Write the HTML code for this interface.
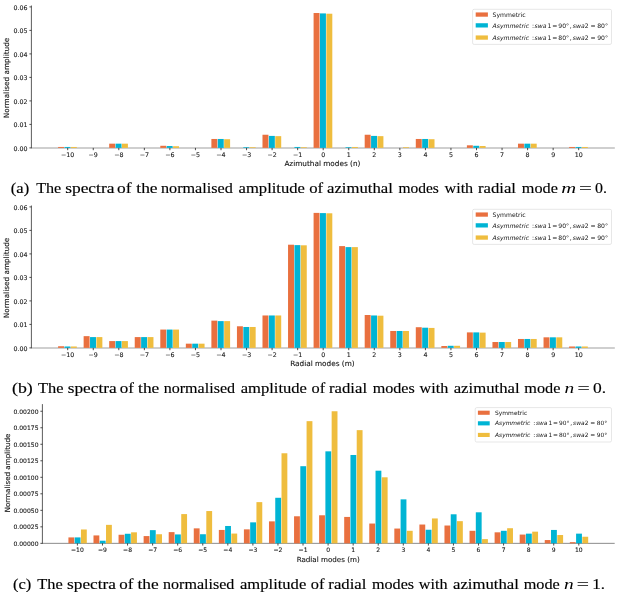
<!DOCTYPE html>
<html><head><meta charset="utf-8"><title>Modal spectra</title>
<style>
html,body{margin:0;padding:0;background:#fff;}
body{width:618px;height:592px;overflow:hidden;}
svg{display:block;}
.t{font-family:"DejaVu Sans","Liberation Sans",sans-serif;fill:#111;stroke:#111;stroke-width:0.1px;}
.tk{font-family:"DejaVu Sans","Liberation Sans",sans-serif;fill:#111;stroke:#111;stroke-width:0.08px;}
.lg{font-family:"DejaVu Sans","Liberation Sans",sans-serif;fill:#111;}
.c{font-family:"Liberation Serif","DejaVu Serif",serif;font-size:15px;fill:#000;stroke:#000;stroke-width:0.15px;}
</style></head><body>
<svg width="618" height="592" viewBox="0 0 618 592">
<rect width="618" height="592" fill="#fff"/>
<line x1="31.4" y1="147.9" x2="614.8" y2="147.9" stroke="#cfcfcf" stroke-width="2.0"/>
<rect x="58.09" y="146.96" width="5.95" height="0.94" fill="#E9703F"/>
<rect x="64.48" y="146.96" width="5.95" height="0.94" fill="#00B4D4"/>
<rect x="70.86" y="146.96" width="5.95" height="0.94" fill="#EFBD3E"/>
<rect x="109.19" y="143.67" width="5.95" height="4.23" fill="#E9703F"/>
<rect x="115.58" y="143.67" width="5.95" height="4.23" fill="#00B4D4"/>
<rect x="121.96" y="143.67" width="5.95" height="4.23" fill="#EFBD3E"/>
<rect x="160.29" y="145.78" width="5.95" height="2.11" fill="#E9703F"/>
<rect x="166.68" y="146.02" width="5.95" height="1.88" fill="#00B4D4"/>
<rect x="173.06" y="146.25" width="5.95" height="1.65" fill="#EFBD3E"/>
<rect x="211.39" y="138.97" width="5.95" height="8.93" fill="#E9703F"/>
<rect x="217.78" y="138.97" width="5.95" height="8.93" fill="#00B4D4"/>
<rect x="224.16" y="139.21" width="5.95" height="8.7" fill="#EFBD3E"/>
<rect x="243.33" y="147.19" width="5.95" height="0.7" fill="#00B4D4"/>
<rect x="249.71" y="147.19" width="5.95" height="0.7" fill="#EFBD3E"/>
<rect x="262.49" y="134.74" width="5.95" height="13.16" fill="#E9703F"/>
<rect x="268.88" y="135.91" width="5.95" height="11.99" fill="#00B4D4"/>
<rect x="275.26" y="136.15" width="5.95" height="11.75" fill="#EFBD3E"/>
<rect x="294.43" y="146.96" width="5.95" height="0.94" fill="#00B4D4"/>
<rect x="300.81" y="147.19" width="5.95" height="0.7" fill="#EFBD3E"/>
<rect x="313.59" y="13.01" width="5.95" height="134.89" fill="#E9703F"/>
<rect x="319.98" y="13.41" width="5.95" height="134.49" fill="#00B4D4"/>
<rect x="326.36" y="13.72" width="5.95" height="134.19" fill="#EFBD3E"/>
<rect x="345.53" y="147.19" width="5.95" height="0.7" fill="#00B4D4"/>
<rect x="351.91" y="146.96" width="5.95" height="0.94" fill="#EFBD3E"/>
<rect x="364.69" y="134.74" width="5.95" height="13.16" fill="#E9703F"/>
<rect x="371.08" y="135.91" width="5.95" height="11.99" fill="#00B4D4"/>
<rect x="377.46" y="136.15" width="5.95" height="11.75" fill="#EFBD3E"/>
<rect x="403.01" y="147.19" width="5.95" height="0.7" fill="#EFBD3E"/>
<rect x="415.79" y="138.97" width="5.95" height="8.93" fill="#E9703F"/>
<rect x="422.18" y="138.97" width="5.95" height="8.93" fill="#00B4D4"/>
<rect x="428.56" y="139.21" width="5.95" height="8.7" fill="#EFBD3E"/>
<rect x="466.89" y="145.31" width="5.95" height="2.58" fill="#E9703F"/>
<rect x="473.28" y="145.78" width="5.95" height="2.11" fill="#00B4D4"/>
<rect x="479.66" y="146.02" width="5.95" height="1.88" fill="#EFBD3E"/>
<rect x="517.99" y="143.67" width="5.95" height="4.23" fill="#E9703F"/>
<rect x="524.38" y="143.67" width="5.95" height="4.23" fill="#00B4D4"/>
<rect x="530.76" y="143.67" width="5.95" height="4.23" fill="#EFBD3E"/>
<rect x="569.09" y="146.96" width="5.95" height="0.94" fill="#E9703F"/>
<rect x="575.48" y="146.96" width="5.95" height="0.94" fill="#00B4D4"/>
<rect x="581.86" y="146.96" width="5.95" height="0.94" fill="#EFBD3E"/>
<line x1="31.4" y1="5.5" x2="31.4" y2="148.3" stroke="#333" stroke-width="0.8"/>
<line x1="29.4" y1="147.9" x2="31.4" y2="147.9" stroke="#222" stroke-width="0.8"/>
<text x="27.6" y="150.59" text-anchor="end" class="tk" style="font-size:6.3px">0.00</text>
<line x1="29.4" y1="124.4" x2="31.4" y2="124.4" stroke="#222" stroke-width="0.8"/>
<text x="27.6" y="127.09" text-anchor="end" class="tk" style="font-size:6.3px">0.01</text>
<line x1="29.4" y1="100.9" x2="31.4" y2="100.9" stroke="#222" stroke-width="0.8"/>
<text x="27.6" y="103.59" text-anchor="end" class="tk" style="font-size:6.3px">0.02</text>
<line x1="29.4" y1="77.4" x2="31.4" y2="77.4" stroke="#222" stroke-width="0.8"/>
<text x="27.6" y="80.09" text-anchor="end" class="tk" style="font-size:6.3px">0.03</text>
<line x1="29.4" y1="53.9" x2="31.4" y2="53.9" stroke="#222" stroke-width="0.8"/>
<text x="27.6" y="56.59" text-anchor="end" class="tk" style="font-size:6.3px">0.04</text>
<line x1="29.4" y1="30.4" x2="31.4" y2="30.4" stroke="#222" stroke-width="0.8"/>
<text x="27.6" y="33.09" text-anchor="end" class="tk" style="font-size:6.3px">0.05</text>
<line x1="29.4" y1="6.9" x2="31.4" y2="6.9" stroke="#222" stroke-width="0.8"/>
<text x="27.6" y="9.59" text-anchor="end" class="tk" style="font-size:6.3px">0.06</text>
<line x1="67.7" y1="147.9" x2="67.7" y2="150.2" stroke="#222" stroke-width="0.8"/>
<text x="67.7" y="156.8" text-anchor="middle" class="tk" style="font-size:6.3px">−10</text>
<line x1="93.25" y1="147.9" x2="93.25" y2="150.2" stroke="#222" stroke-width="0.8"/>
<text x="93.25" y="156.8" text-anchor="middle" class="tk" style="font-size:6.3px">−9</text>
<line x1="118.8" y1="147.9" x2="118.8" y2="150.2" stroke="#222" stroke-width="0.8"/>
<text x="118.8" y="156.8" text-anchor="middle" class="tk" style="font-size:6.3px">−8</text>
<line x1="144.35" y1="147.9" x2="144.35" y2="150.2" stroke="#222" stroke-width="0.8"/>
<text x="144.35" y="156.8" text-anchor="middle" class="tk" style="font-size:6.3px">−7</text>
<line x1="169.9" y1="147.9" x2="169.9" y2="150.2" stroke="#222" stroke-width="0.8"/>
<text x="169.9" y="156.8" text-anchor="middle" class="tk" style="font-size:6.3px">−6</text>
<line x1="195.45" y1="147.9" x2="195.45" y2="150.2" stroke="#222" stroke-width="0.8"/>
<text x="195.45" y="156.8" text-anchor="middle" class="tk" style="font-size:6.3px">−5</text>
<line x1="221" y1="147.9" x2="221" y2="150.2" stroke="#222" stroke-width="0.8"/>
<text x="221" y="156.8" text-anchor="middle" class="tk" style="font-size:6.3px">−4</text>
<line x1="246.55" y1="147.9" x2="246.55" y2="150.2" stroke="#222" stroke-width="0.8"/>
<text x="246.55" y="156.8" text-anchor="middle" class="tk" style="font-size:6.3px">−3</text>
<line x1="272.1" y1="147.9" x2="272.1" y2="150.2" stroke="#222" stroke-width="0.8"/>
<text x="272.1" y="156.8" text-anchor="middle" class="tk" style="font-size:6.3px">−2</text>
<line x1="297.65" y1="147.9" x2="297.65" y2="150.2" stroke="#222" stroke-width="0.8"/>
<text x="297.65" y="156.8" text-anchor="middle" class="tk" style="font-size:6.3px">−1</text>
<line x1="323.2" y1="147.9" x2="323.2" y2="150.2" stroke="#222" stroke-width="0.8"/>
<text x="323.2" y="156.8" text-anchor="middle" class="tk" style="font-size:6.3px">0</text>
<line x1="348.75" y1="147.9" x2="348.75" y2="150.2" stroke="#222" stroke-width="0.8"/>
<text x="348.75" y="156.8" text-anchor="middle" class="tk" style="font-size:6.3px">1</text>
<line x1="374.3" y1="147.9" x2="374.3" y2="150.2" stroke="#222" stroke-width="0.8"/>
<text x="374.3" y="156.8" text-anchor="middle" class="tk" style="font-size:6.3px">2</text>
<line x1="399.85" y1="147.9" x2="399.85" y2="150.2" stroke="#222" stroke-width="0.8"/>
<text x="399.85" y="156.8" text-anchor="middle" class="tk" style="font-size:6.3px">3</text>
<line x1="425.4" y1="147.9" x2="425.4" y2="150.2" stroke="#222" stroke-width="0.8"/>
<text x="425.4" y="156.8" text-anchor="middle" class="tk" style="font-size:6.3px">4</text>
<line x1="450.95" y1="147.9" x2="450.95" y2="150.2" stroke="#222" stroke-width="0.8"/>
<text x="450.95" y="156.8" text-anchor="middle" class="tk" style="font-size:6.3px">5</text>
<line x1="476.5" y1="147.9" x2="476.5" y2="150.2" stroke="#222" stroke-width="0.8"/>
<text x="476.5" y="156.8" text-anchor="middle" class="tk" style="font-size:6.3px">6</text>
<line x1="502.05" y1="147.9" x2="502.05" y2="150.2" stroke="#222" stroke-width="0.8"/>
<text x="502.05" y="156.8" text-anchor="middle" class="tk" style="font-size:6.3px">7</text>
<line x1="527.6" y1="147.9" x2="527.6" y2="150.2" stroke="#222" stroke-width="0.8"/>
<text x="527.6" y="156.8" text-anchor="middle" class="tk" style="font-size:6.3px">8</text>
<line x1="553.15" y1="147.9" x2="553.15" y2="150.2" stroke="#222" stroke-width="0.8"/>
<text x="553.15" y="156.8" text-anchor="middle" class="tk" style="font-size:6.3px">9</text>
<line x1="578.7" y1="147.9" x2="578.7" y2="150.2" stroke="#222" stroke-width="0.8"/>
<text x="578.7" y="156.8" text-anchor="middle" class="tk" style="font-size:6.3px">10</text>
<text x="322.4" y="166" text-anchor="middle" class="t" style="font-size:7.3px">Azimuthal modes (n)</text>
<text transform="translate(9,78) rotate(-90)" text-anchor="middle" class="t" style="font-size:7.3px">Normalised amplitude</text>
<rect x="472.6" y="9.3" width="138.9" height="35.1" rx="1.5" fill="#fff" fill-opacity="0.8" stroke="#dcdcdc" stroke-width="0.7"/>
<rect x="475.7" y="12.43" width="12.2" height="4.27" fill="#E9703F"/>
<text x="492.6" y="16.7" class="lg" style="font-size:6.1px" textLength="33" lengthAdjust="spacingAndGlyphs">Symmetric</text>
<rect x="475.7" y="23.23" width="12.2" height="4.27" fill="#00B4D4"/>
<text y="27.5" class="lg" style="font-size:6.1px"><tspan x="492.55" font-style="italic">Asymmetric</tspan><tspan x="531.9">:</tspan><tspan x="534.55" font-style="italic">swa</tspan><tspan x="547.45">1</tspan><tspan x="552.2">=</tspan><tspan x="558.35">90°</tspan><tspan x="569.8">,</tspan><tspan x="572.75" font-style="italic">swa</tspan><tspan x="584.75">2</tspan><tspan x="590.4">=</tspan><tspan x="597.15">80°</tspan></text>
<rect x="475.7" y="35.43" width="12.2" height="4.27" fill="#EFBD3E"/>
<text y="39.7" class="lg" style="font-size:6.1px"><tspan x="492.55" font-style="italic">Asymmetric</tspan><tspan x="531.9">:</tspan><tspan x="534.55" font-style="italic">swa</tspan><tspan x="547.45">1</tspan><tspan x="552.2">=</tspan><tspan x="558.35">80°</tspan><tspan x="569.8">,</tspan><tspan x="572.75" font-style="italic">swa</tspan><tspan x="584.75">2</tspan><tspan x="590.4">=</tspan><tspan x="597.15">90°</tspan></text>
<line x1="31.4" y1="347.9" x2="614.8" y2="347.9" stroke="#cfcfcf" stroke-width="2.0"/>
<rect x="58.09" y="346.25" width="5.95" height="1.65" fill="#E9703F"/>
<rect x="64.48" y="346.49" width="5.95" height="1.41" fill="#00B4D4"/>
<rect x="70.86" y="346.49" width="5.95" height="1.41" fill="#EFBD3E"/>
<rect x="83.64" y="336.15" width="5.95" height="11.75" fill="#E9703F"/>
<rect x="90.03" y="337.09" width="5.95" height="10.81" fill="#00B4D4"/>
<rect x="96.41" y="337.09" width="5.95" height="10.81" fill="#EFBD3E"/>
<rect x="109.19" y="341.08" width="5.95" height="6.81" fill="#E9703F"/>
<rect x="115.58" y="341.08" width="5.95" height="6.81" fill="#00B4D4"/>
<rect x="121.96" y="341.08" width="5.95" height="6.81" fill="#EFBD3E"/>
<rect x="134.74" y="337.09" width="5.95" height="10.81" fill="#E9703F"/>
<rect x="141.13" y="337.09" width="5.95" height="10.81" fill="#00B4D4"/>
<rect x="147.51" y="337.09" width="5.95" height="10.81" fill="#EFBD3E"/>
<rect x="160.29" y="329.57" width="5.95" height="18.33" fill="#E9703F"/>
<rect x="166.68" y="329.57" width="5.95" height="18.33" fill="#00B4D4"/>
<rect x="173.06" y="329.57" width="5.95" height="18.33" fill="#EFBD3E"/>
<rect x="185.84" y="343.67" width="5.95" height="4.23" fill="#E9703F"/>
<rect x="192.23" y="343.67" width="5.95" height="4.23" fill="#00B4D4"/>
<rect x="198.61" y="343.67" width="5.95" height="4.23" fill="#EFBD3E"/>
<rect x="211.39" y="320.64" width="5.95" height="27.26" fill="#E9703F"/>
<rect x="217.78" y="321.11" width="5.95" height="26.79" fill="#00B4D4"/>
<rect x="224.16" y="321.11" width="5.95" height="26.79" fill="#EFBD3E"/>
<rect x="236.94" y="326.28" width="5.95" height="21.62" fill="#E9703F"/>
<rect x="243.33" y="326.98" width="5.95" height="20.91" fill="#00B4D4"/>
<rect x="249.71" y="326.98" width="5.95" height="20.91" fill="#EFBD3E"/>
<rect x="262.49" y="315.47" width="5.95" height="32.43" fill="#E9703F"/>
<rect x="268.88" y="315.47" width="5.95" height="32.43" fill="#00B4D4"/>
<rect x="275.26" y="315.47" width="5.95" height="32.43" fill="#EFBD3E"/>
<rect x="288.04" y="244.71" width="5.95" height="103.19" fill="#E9703F"/>
<rect x="294.43" y="245.11" width="5.95" height="102.79" fill="#00B4D4"/>
<rect x="300.81" y="245.3" width="5.95" height="102.6" fill="#EFBD3E"/>
<rect x="313.59" y="212.89" width="5.95" height="135.01" fill="#E9703F"/>
<rect x="319.98" y="213.1" width="5.95" height="134.8" fill="#00B4D4"/>
<rect x="326.36" y="213.29" width="5.95" height="134.61" fill="#EFBD3E"/>
<rect x="339.14" y="246.1" width="5.95" height="101.8" fill="#E9703F"/>
<rect x="345.53" y="247.11" width="5.95" height="100.79" fill="#00B4D4"/>
<rect x="351.91" y="247.11" width="5.95" height="100.79" fill="#EFBD3E"/>
<rect x="364.69" y="315" width="5.95" height="32.9" fill="#E9703F"/>
<rect x="371.08" y="315.47" width="5.95" height="32.43" fill="#00B4D4"/>
<rect x="377.46" y="315.7" width="5.95" height="32.2" fill="#EFBD3E"/>
<rect x="390.24" y="330.98" width="5.95" height="16.92" fill="#E9703F"/>
<rect x="396.63" y="330.98" width="5.95" height="16.92" fill="#00B4D4"/>
<rect x="403.01" y="330.98" width="5.95" height="16.92" fill="#EFBD3E"/>
<rect x="415.79" y="327.22" width="5.95" height="20.68" fill="#E9703F"/>
<rect x="422.18" y="327.69" width="5.95" height="20.21" fill="#00B4D4"/>
<rect x="428.56" y="327.92" width="5.95" height="19.98" fill="#EFBD3E"/>
<rect x="441.34" y="346.02" width="5.95" height="1.88" fill="#E9703F"/>
<rect x="447.73" y="345.78" width="5.95" height="2.11" fill="#00B4D4"/>
<rect x="454.11" y="345.78" width="5.95" height="2.11" fill="#EFBD3E"/>
<rect x="466.89" y="332.39" width="5.95" height="15.51" fill="#E9703F"/>
<rect x="473.28" y="332.39" width="5.95" height="15.51" fill="#00B4D4"/>
<rect x="479.66" y="332.62" width="5.95" height="15.27" fill="#EFBD3E"/>
<rect x="492.44" y="342.02" width="5.95" height="5.88" fill="#E9703F"/>
<rect x="498.83" y="342.02" width="5.95" height="5.88" fill="#00B4D4"/>
<rect x="505.21" y="342.02" width="5.95" height="5.88" fill="#EFBD3E"/>
<rect x="517.99" y="338.97" width="5.95" height="8.93" fill="#E9703F"/>
<rect x="524.38" y="338.97" width="5.95" height="8.93" fill="#00B4D4"/>
<rect x="530.76" y="338.97" width="5.95" height="8.93" fill="#EFBD3E"/>
<rect x="543.54" y="337.32" width="5.95" height="10.57" fill="#E9703F"/>
<rect x="549.93" y="337.32" width="5.95" height="10.57" fill="#00B4D4"/>
<rect x="556.31" y="337.32" width="5.95" height="10.57" fill="#EFBD3E"/>
<rect x="569.09" y="346.49" width="5.95" height="1.41" fill="#E9703F"/>
<rect x="575.48" y="346.49" width="5.95" height="1.41" fill="#00B4D4"/>
<rect x="581.86" y="346.49" width="5.95" height="1.41" fill="#EFBD3E"/>
<line x1="31.4" y1="205.5" x2="31.4" y2="348.3" stroke="#333" stroke-width="0.8"/>
<line x1="29.4" y1="347.9" x2="31.4" y2="347.9" stroke="#222" stroke-width="0.8"/>
<text x="27.6" y="350.59" text-anchor="end" class="tk" style="font-size:6.3px">0.00</text>
<line x1="29.4" y1="324.4" x2="31.4" y2="324.4" stroke="#222" stroke-width="0.8"/>
<text x="27.6" y="327.09" text-anchor="end" class="tk" style="font-size:6.3px">0.01</text>
<line x1="29.4" y1="300.9" x2="31.4" y2="300.9" stroke="#222" stroke-width="0.8"/>
<text x="27.6" y="303.59" text-anchor="end" class="tk" style="font-size:6.3px">0.02</text>
<line x1="29.4" y1="277.4" x2="31.4" y2="277.4" stroke="#222" stroke-width="0.8"/>
<text x="27.6" y="280.09" text-anchor="end" class="tk" style="font-size:6.3px">0.03</text>
<line x1="29.4" y1="253.9" x2="31.4" y2="253.9" stroke="#222" stroke-width="0.8"/>
<text x="27.6" y="256.59" text-anchor="end" class="tk" style="font-size:6.3px">0.04</text>
<line x1="29.4" y1="230.4" x2="31.4" y2="230.4" stroke="#222" stroke-width="0.8"/>
<text x="27.6" y="233.09" text-anchor="end" class="tk" style="font-size:6.3px">0.05</text>
<line x1="29.4" y1="206.9" x2="31.4" y2="206.9" stroke="#222" stroke-width="0.8"/>
<text x="27.6" y="209.59" text-anchor="end" class="tk" style="font-size:6.3px">0.06</text>
<line x1="67.7" y1="347.9" x2="67.7" y2="350.2" stroke="#222" stroke-width="0.8"/>
<text x="67.7" y="356.8" text-anchor="middle" class="tk" style="font-size:6.3px">−10</text>
<line x1="93.25" y1="347.9" x2="93.25" y2="350.2" stroke="#222" stroke-width="0.8"/>
<text x="93.25" y="356.8" text-anchor="middle" class="tk" style="font-size:6.3px">−9</text>
<line x1="118.8" y1="347.9" x2="118.8" y2="350.2" stroke="#222" stroke-width="0.8"/>
<text x="118.8" y="356.8" text-anchor="middle" class="tk" style="font-size:6.3px">−8</text>
<line x1="144.35" y1="347.9" x2="144.35" y2="350.2" stroke="#222" stroke-width="0.8"/>
<text x="144.35" y="356.8" text-anchor="middle" class="tk" style="font-size:6.3px">−7</text>
<line x1="169.9" y1="347.9" x2="169.9" y2="350.2" stroke="#222" stroke-width="0.8"/>
<text x="169.9" y="356.8" text-anchor="middle" class="tk" style="font-size:6.3px">−6</text>
<line x1="195.45" y1="347.9" x2="195.45" y2="350.2" stroke="#222" stroke-width="0.8"/>
<text x="195.45" y="356.8" text-anchor="middle" class="tk" style="font-size:6.3px">−5</text>
<line x1="221" y1="347.9" x2="221" y2="350.2" stroke="#222" stroke-width="0.8"/>
<text x="221" y="356.8" text-anchor="middle" class="tk" style="font-size:6.3px">−4</text>
<line x1="246.55" y1="347.9" x2="246.55" y2="350.2" stroke="#222" stroke-width="0.8"/>
<text x="246.55" y="356.8" text-anchor="middle" class="tk" style="font-size:6.3px">−3</text>
<line x1="272.1" y1="347.9" x2="272.1" y2="350.2" stroke="#222" stroke-width="0.8"/>
<text x="272.1" y="356.8" text-anchor="middle" class="tk" style="font-size:6.3px">−2</text>
<line x1="297.65" y1="347.9" x2="297.65" y2="350.2" stroke="#222" stroke-width="0.8"/>
<text x="297.65" y="356.8" text-anchor="middle" class="tk" style="font-size:6.3px">−1</text>
<line x1="323.2" y1="347.9" x2="323.2" y2="350.2" stroke="#222" stroke-width="0.8"/>
<text x="323.2" y="356.8" text-anchor="middle" class="tk" style="font-size:6.3px">0</text>
<line x1="348.75" y1="347.9" x2="348.75" y2="350.2" stroke="#222" stroke-width="0.8"/>
<text x="348.75" y="356.8" text-anchor="middle" class="tk" style="font-size:6.3px">1</text>
<line x1="374.3" y1="347.9" x2="374.3" y2="350.2" stroke="#222" stroke-width="0.8"/>
<text x="374.3" y="356.8" text-anchor="middle" class="tk" style="font-size:6.3px">2</text>
<line x1="399.85" y1="347.9" x2="399.85" y2="350.2" stroke="#222" stroke-width="0.8"/>
<text x="399.85" y="356.8" text-anchor="middle" class="tk" style="font-size:6.3px">3</text>
<line x1="425.4" y1="347.9" x2="425.4" y2="350.2" stroke="#222" stroke-width="0.8"/>
<text x="425.4" y="356.8" text-anchor="middle" class="tk" style="font-size:6.3px">4</text>
<line x1="450.95" y1="347.9" x2="450.95" y2="350.2" stroke="#222" stroke-width="0.8"/>
<text x="450.95" y="356.8" text-anchor="middle" class="tk" style="font-size:6.3px">5</text>
<line x1="476.5" y1="347.9" x2="476.5" y2="350.2" stroke="#222" stroke-width="0.8"/>
<text x="476.5" y="356.8" text-anchor="middle" class="tk" style="font-size:6.3px">6</text>
<line x1="502.05" y1="347.9" x2="502.05" y2="350.2" stroke="#222" stroke-width="0.8"/>
<text x="502.05" y="356.8" text-anchor="middle" class="tk" style="font-size:6.3px">7</text>
<line x1="527.6" y1="347.9" x2="527.6" y2="350.2" stroke="#222" stroke-width="0.8"/>
<text x="527.6" y="356.8" text-anchor="middle" class="tk" style="font-size:6.3px">8</text>
<line x1="553.15" y1="347.9" x2="553.15" y2="350.2" stroke="#222" stroke-width="0.8"/>
<text x="553.15" y="356.8" text-anchor="middle" class="tk" style="font-size:6.3px">9</text>
<line x1="578.7" y1="347.9" x2="578.7" y2="350.2" stroke="#222" stroke-width="0.8"/>
<text x="578.7" y="356.8" text-anchor="middle" class="tk" style="font-size:6.3px">10</text>
<text x="322.4" y="366" text-anchor="middle" class="t" style="font-size:7.3px">Radial modes (m)</text>
<text transform="translate(9,278) rotate(-90)" text-anchor="middle" class="t" style="font-size:7.3px">Normalised amplitude</text>
<rect x="472.6" y="209.3" width="138.9" height="35.1" rx="1.5" fill="#fff" fill-opacity="0.8" stroke="#dcdcdc" stroke-width="0.7"/>
<rect x="475.7" y="212.43" width="12.2" height="4.27" fill="#E9703F"/>
<text x="492.6" y="216.7" class="lg" style="font-size:6.1px" textLength="33" lengthAdjust="spacingAndGlyphs">Symmetric</text>
<rect x="475.7" y="223.23" width="12.2" height="4.27" fill="#00B4D4"/>
<text y="227.5" class="lg" style="font-size:6.1px"><tspan x="492.55" font-style="italic">Asymmetric</tspan><tspan x="531.9">:</tspan><tspan x="534.55" font-style="italic">swa</tspan><tspan x="547.45">1</tspan><tspan x="552.2">=</tspan><tspan x="558.35">90°</tspan><tspan x="569.8">,</tspan><tspan x="572.75" font-style="italic">swa</tspan><tspan x="584.75">2</tspan><tspan x="590.4">=</tspan><tspan x="597.15">80°</tspan></text>
<rect x="475.7" y="235.43" width="12.2" height="4.27" fill="#EFBD3E"/>
<text y="239.7" class="lg" style="font-size:6.1px"><tspan x="492.55" font-style="italic">Asymmetric</tspan><tspan x="531.9">:</tspan><tspan x="534.55" font-style="italic">swa</tspan><tspan x="547.45">1</tspan><tspan x="552.2">=</tspan><tspan x="558.35">80°</tspan><tspan x="569.8">,</tspan><tspan x="572.75" font-style="italic">swa</tspan><tspan x="584.75">2</tspan><tspan x="590.4">=</tspan><tspan x="597.15">90°</tspan></text>
<line x1="42.4" y1="543.35" x2="614.7" y2="543.35" stroke="#8c8c8c" stroke-width="1.0"/>
<rect x="68.42" y="537.41" width="5.83" height="5.94" fill="#E9703F"/>
<rect x="74.69" y="537.41" width="5.83" height="5.94" fill="#00B4D4"/>
<rect x="80.95" y="529.48" width="5.83" height="13.87" fill="#EFBD3E"/>
<rect x="93.49" y="535.42" width="5.83" height="7.93" fill="#E9703F"/>
<rect x="99.76" y="540.71" width="5.83" height="2.64" fill="#00B4D4"/>
<rect x="106.02" y="524.86" width="5.83" height="18.49" fill="#EFBD3E"/>
<rect x="118.56" y="534.76" width="5.83" height="8.59" fill="#E9703F"/>
<rect x="124.83" y="533.77" width="5.83" height="9.58" fill="#00B4D4"/>
<rect x="131.09" y="532.32" width="5.83" height="11.03" fill="#EFBD3E"/>
<rect x="143.63" y="536.08" width="5.83" height="7.27" fill="#E9703F"/>
<rect x="149.9" y="530.14" width="5.83" height="13.21" fill="#00B4D4"/>
<rect x="156.16" y="534.24" width="5.83" height="9.11" fill="#EFBD3E"/>
<rect x="168.7" y="532.12" width="5.83" height="11.23" fill="#E9703F"/>
<rect x="174.97" y="534.43" width="5.83" height="8.92" fill="#00B4D4"/>
<rect x="181.23" y="514.09" width="5.83" height="29.26" fill="#EFBD3E"/>
<rect x="193.77" y="528.36" width="5.83" height="14.99" fill="#E9703F"/>
<rect x="200.04" y="534.24" width="5.83" height="9.11" fill="#00B4D4"/>
<rect x="206.3" y="511.05" width="5.83" height="32.3" fill="#EFBD3E"/>
<rect x="218.84" y="529.94" width="5.83" height="13.41" fill="#E9703F"/>
<rect x="225.11" y="525.98" width="5.83" height="17.37" fill="#00B4D4"/>
<rect x="231.37" y="533.57" width="5.83" height="9.78" fill="#EFBD3E"/>
<rect x="243.91" y="529.35" width="5.83" height="14" fill="#E9703F"/>
<rect x="250.18" y="522.35" width="5.83" height="21" fill="#00B4D4"/>
<rect x="256.44" y="502.13" width="5.83" height="41.22" fill="#EFBD3E"/>
<rect x="268.98" y="521.36" width="5.83" height="21.99" fill="#E9703F"/>
<rect x="275.25" y="497.78" width="5.83" height="45.57" fill="#00B4D4"/>
<rect x="281.51" y="453.26" width="5.83" height="90.09" fill="#EFBD3E"/>
<rect x="294.05" y="516.27" width="5.83" height="27.08" fill="#E9703F"/>
<rect x="300.32" y="466.2" width="5.83" height="77.15" fill="#00B4D4"/>
<rect x="306.58" y="421.16" width="5.83" height="122.19" fill="#EFBD3E"/>
<rect x="319.12" y="515.28" width="5.83" height="28.07" fill="#E9703F"/>
<rect x="325.39" y="451.34" width="5.83" height="92.01" fill="#00B4D4"/>
<rect x="331.65" y="411.25" width="5.83" height="132.1" fill="#EFBD3E"/>
<rect x="344.19" y="516.93" width="5.83" height="26.42" fill="#E9703F"/>
<rect x="350.46" y="454.98" width="5.83" height="88.37" fill="#00B4D4"/>
<rect x="356.72" y="430.14" width="5.83" height="113.21" fill="#EFBD3E"/>
<rect x="369.26" y="523.54" width="5.83" height="19.81" fill="#E9703F"/>
<rect x="375.53" y="470.7" width="5.83" height="72.66" fill="#00B4D4"/>
<rect x="381.79" y="477.3" width="5.83" height="66.05" fill="#EFBD3E"/>
<rect x="394.33" y="528.55" width="5.83" height="14.8" fill="#E9703F"/>
<rect x="400.6" y="499.36" width="5.83" height="43.99" fill="#00B4D4"/>
<rect x="406.86" y="530.8" width="5.83" height="12.55" fill="#EFBD3E"/>
<rect x="419.4" y="524.53" width="5.83" height="18.82" fill="#E9703F"/>
<rect x="425.67" y="529.74" width="5.83" height="13.61" fill="#00B4D4"/>
<rect x="431.93" y="518.45" width="5.83" height="24.9" fill="#EFBD3E"/>
<rect x="444.47" y="525.52" width="5.83" height="17.83" fill="#E9703F"/>
<rect x="450.74" y="514.29" width="5.83" height="29.06" fill="#00B4D4"/>
<rect x="457" y="521.16" width="5.83" height="22.19" fill="#EFBD3E"/>
<rect x="469.54" y="530.8" width="5.83" height="12.55" fill="#E9703F"/>
<rect x="475.81" y="512.31" width="5.83" height="31.04" fill="#00B4D4"/>
<rect x="482.07" y="539.12" width="5.83" height="4.23" fill="#EFBD3E"/>
<rect x="494.61" y="532.32" width="5.83" height="11.03" fill="#E9703F"/>
<rect x="500.88" y="530.8" width="5.83" height="12.55" fill="#00B4D4"/>
<rect x="507.14" y="528.22" width="5.83" height="15.13" fill="#EFBD3E"/>
<rect x="519.68" y="534.57" width="5.83" height="8.78" fill="#E9703F"/>
<rect x="525.95" y="533.64" width="5.83" height="9.71" fill="#00B4D4"/>
<rect x="532.21" y="531.66" width="5.83" height="11.69" fill="#EFBD3E"/>
<rect x="544.75" y="540.05" width="5.83" height="3.3" fill="#E9703F"/>
<rect x="551.02" y="529.94" width="5.83" height="13.41" fill="#00B4D4"/>
<rect x="557.28" y="535.03" width="5.83" height="8.32" fill="#EFBD3E"/>
<rect x="569.82" y="542.16" width="5.83" height="1.19" fill="#E9703F"/>
<rect x="576.09" y="533.64" width="5.83" height="9.71" fill="#00B4D4"/>
<rect x="582.35" y="536.75" width="5.83" height="6.61" fill="#EFBD3E"/>
<line x1="42.4" y1="404.1" x2="42.4" y2="543.75" stroke="#333" stroke-width="0.8"/>
<line x1="40.4" y1="543.35" x2="42.4" y2="543.35" stroke="#222" stroke-width="0.8"/>
<text x="38.5" y="545.95" text-anchor="end" class="tk" style="font-size:6.05px">0.00000</text>
<line x1="40.4" y1="526.84" x2="42.4" y2="526.84" stroke="#222" stroke-width="0.8"/>
<text x="38.5" y="529.44" text-anchor="end" class="tk" style="font-size:6.05px">0.00025</text>
<line x1="40.4" y1="510.33" x2="42.4" y2="510.33" stroke="#222" stroke-width="0.8"/>
<text x="38.5" y="512.93" text-anchor="end" class="tk" style="font-size:6.05px">0.00050</text>
<line x1="40.4" y1="493.81" x2="42.4" y2="493.81" stroke="#222" stroke-width="0.8"/>
<text x="38.5" y="496.41" text-anchor="end" class="tk" style="font-size:6.05px">0.00075</text>
<line x1="40.4" y1="477.3" x2="42.4" y2="477.3" stroke="#222" stroke-width="0.8"/>
<text x="38.5" y="479.9" text-anchor="end" class="tk" style="font-size:6.05px">0.00100</text>
<line x1="40.4" y1="460.79" x2="42.4" y2="460.79" stroke="#222" stroke-width="0.8"/>
<text x="38.5" y="463.39" text-anchor="end" class="tk" style="font-size:6.05px">0.00125</text>
<line x1="40.4" y1="444.28" x2="42.4" y2="444.28" stroke="#222" stroke-width="0.8"/>
<text x="38.5" y="446.88" text-anchor="end" class="tk" style="font-size:6.05px">0.00150</text>
<line x1="40.4" y1="427.76" x2="42.4" y2="427.76" stroke="#222" stroke-width="0.8"/>
<text x="38.5" y="430.36" text-anchor="end" class="tk" style="font-size:6.05px">0.00175</text>
<line x1="40.4" y1="411.25" x2="42.4" y2="411.25" stroke="#222" stroke-width="0.8"/>
<text x="38.5" y="413.85" text-anchor="end" class="tk" style="font-size:6.05px">0.00200</text>
<line x1="77.4" y1="543.35" x2="77.4" y2="545.55" stroke="#222" stroke-width="0.8"/>
<text x="77.4" y="552.3" text-anchor="middle" class="tk" style="font-size:6.05px">−10</text>
<line x1="102.47" y1="543.35" x2="102.47" y2="545.55" stroke="#222" stroke-width="0.8"/>
<text x="102.47" y="552.3" text-anchor="middle" class="tk" style="font-size:6.05px">−9</text>
<line x1="127.54" y1="543.35" x2="127.54" y2="545.55" stroke="#222" stroke-width="0.8"/>
<text x="127.54" y="552.3" text-anchor="middle" class="tk" style="font-size:6.05px">−8</text>
<line x1="152.61" y1="543.35" x2="152.61" y2="545.55" stroke="#222" stroke-width="0.8"/>
<text x="152.61" y="552.3" text-anchor="middle" class="tk" style="font-size:6.05px">−7</text>
<line x1="177.68" y1="543.35" x2="177.68" y2="545.55" stroke="#222" stroke-width="0.8"/>
<text x="177.68" y="552.3" text-anchor="middle" class="tk" style="font-size:6.05px">−6</text>
<line x1="202.75" y1="543.35" x2="202.75" y2="545.55" stroke="#222" stroke-width="0.8"/>
<text x="202.75" y="552.3" text-anchor="middle" class="tk" style="font-size:6.05px">−5</text>
<line x1="227.82" y1="543.35" x2="227.82" y2="545.55" stroke="#222" stroke-width="0.8"/>
<text x="227.82" y="552.3" text-anchor="middle" class="tk" style="font-size:6.05px">−4</text>
<line x1="252.89" y1="543.35" x2="252.89" y2="545.55" stroke="#222" stroke-width="0.8"/>
<text x="252.89" y="552.3" text-anchor="middle" class="tk" style="font-size:6.05px">−3</text>
<line x1="277.96" y1="543.35" x2="277.96" y2="545.55" stroke="#222" stroke-width="0.8"/>
<text x="277.96" y="552.3" text-anchor="middle" class="tk" style="font-size:6.05px">−2</text>
<line x1="303.03" y1="543.35" x2="303.03" y2="545.55" stroke="#222" stroke-width="0.8"/>
<text x="303.03" y="552.3" text-anchor="middle" class="tk" style="font-size:6.05px">−1</text>
<line x1="328.1" y1="543.35" x2="328.1" y2="545.55" stroke="#222" stroke-width="0.8"/>
<text x="328.1" y="552.3" text-anchor="middle" class="tk" style="font-size:6.05px">0</text>
<line x1="353.17" y1="543.35" x2="353.17" y2="545.55" stroke="#222" stroke-width="0.8"/>
<text x="353.17" y="552.3" text-anchor="middle" class="tk" style="font-size:6.05px">1</text>
<line x1="378.24" y1="543.35" x2="378.24" y2="545.55" stroke="#222" stroke-width="0.8"/>
<text x="378.24" y="552.3" text-anchor="middle" class="tk" style="font-size:6.05px">2</text>
<line x1="403.31" y1="543.35" x2="403.31" y2="545.55" stroke="#222" stroke-width="0.8"/>
<text x="403.31" y="552.3" text-anchor="middle" class="tk" style="font-size:6.05px">3</text>
<line x1="428.38" y1="543.35" x2="428.38" y2="545.55" stroke="#222" stroke-width="0.8"/>
<text x="428.38" y="552.3" text-anchor="middle" class="tk" style="font-size:6.05px">4</text>
<line x1="453.45" y1="543.35" x2="453.45" y2="545.55" stroke="#222" stroke-width="0.8"/>
<text x="453.45" y="552.3" text-anchor="middle" class="tk" style="font-size:6.05px">5</text>
<line x1="478.52" y1="543.35" x2="478.52" y2="545.55" stroke="#222" stroke-width="0.8"/>
<text x="478.52" y="552.3" text-anchor="middle" class="tk" style="font-size:6.05px">6</text>
<line x1="503.59" y1="543.35" x2="503.59" y2="545.55" stroke="#222" stroke-width="0.8"/>
<text x="503.59" y="552.3" text-anchor="middle" class="tk" style="font-size:6.05px">7</text>
<line x1="528.66" y1="543.35" x2="528.66" y2="545.55" stroke="#222" stroke-width="0.8"/>
<text x="528.66" y="552.3" text-anchor="middle" class="tk" style="font-size:6.05px">8</text>
<line x1="553.73" y1="543.35" x2="553.73" y2="545.55" stroke="#222" stroke-width="0.8"/>
<text x="553.73" y="552.3" text-anchor="middle" class="tk" style="font-size:6.05px">9</text>
<line x1="578.8" y1="543.35" x2="578.8" y2="545.55" stroke="#222" stroke-width="0.8"/>
<text x="578.8" y="552.3" text-anchor="middle" class="tk" style="font-size:6.05px">10</text>
<text x="328.2" y="561.5" text-anchor="middle" class="t" style="font-size:7.15px">Radial modes (m)</text>
<text transform="translate(10,473) rotate(-90)" text-anchor="middle" class="t" style="font-size:7.15px">Normalised amplitude</text>
<rect x="475.2" y="407.6" width="136.3" height="34.4" rx="1.5" fill="#fff" fill-opacity="0.8" stroke="#dcdcdc" stroke-width="0.7"/>
<rect x="477.9" y="410.67" width="11.8" height="4.13" fill="#E9703F"/>
<text x="495.1" y="414.8" class="lg" style="font-size:5.9px" textLength="32.1" lengthAdjust="spacingAndGlyphs">Symmetric</text>
<rect x="477.9" y="421.27" width="11.8" height="4.13" fill="#00B4D4"/>
<text y="425.4" class="lg" style="font-size:5.9px"><tspan x="495.05" font-style="italic">Asymmetric</tspan><tspan x="533.34">:</tspan><tspan x="535.92" font-style="italic">swa</tspan><tspan x="548.47">1</tspan><tspan x="553.1">=</tspan><tspan x="559.07">90°</tspan><tspan x="570.22">,</tspan><tspan x="573.08" font-style="italic">swa</tspan><tspan x="584.76">2</tspan><tspan x="590.26">=</tspan><tspan x="596.83">80°</tspan></text>
<rect x="477.9" y="432.87" width="11.8" height="4.13" fill="#EFBD3E"/>
<text y="437" class="lg" style="font-size:5.9px"><tspan x="495.05" font-style="italic">Asymmetric</tspan><tspan x="533.34">:</tspan><tspan x="535.92" font-style="italic">swa</tspan><tspan x="548.47">1</tspan><tspan x="553.1">=</tspan><tspan x="559.07">80°</tspan><tspan x="570.22">,</tspan><tspan x="573.08" font-style="italic">swa</tspan><tspan x="584.76">2</tspan><tspan x="590.26">=</tspan><tspan x="596.83">90°</tspan></text>
<text x="10.87" y="193.4" class="c" textLength="18.35" lengthAdjust="spacingAndGlyphs">(a)</text>
<text x="36.21" y="193.4" class="c" textLength="25.05" lengthAdjust="spacingAndGlyphs">The</text>
<text x="65.19" y="193.4" class="c" textLength="49.25" lengthAdjust="spacingAndGlyphs">spectra</text>
<text x="117.14" y="193.4" class="c" textLength="14.46" lengthAdjust="spacingAndGlyphs">of</text>
<text x="136.33" y="193.4" class="c" textLength="21.27" lengthAdjust="spacingAndGlyphs">the</text>
<text x="161.03" y="193.4" class="c" textLength="71.77" lengthAdjust="spacingAndGlyphs">normalised</text>
<text x="238.62" y="193.4" class="c" textLength="66.26" lengthAdjust="spacingAndGlyphs">amplitude</text>
<text x="309.16" y="193.4" class="c" textLength="13.94" lengthAdjust="spacingAndGlyphs">of</text>
<text x="327.01" y="193.4" class="c" textLength="65.92" lengthAdjust="spacingAndGlyphs">azimuthal</text>
<text x="398.48" y="193.4" class="c" textLength="40.38" lengthAdjust="spacingAndGlyphs">modes</text>
<text x="444.48" y="193.4" class="c" textLength="28.73" lengthAdjust="spacingAndGlyphs">with</text>
<text x="477.97" y="193.4" class="c" textLength="37.97" lengthAdjust="spacingAndGlyphs">radial</text>
<text x="521.76" y="193.4" class="c" textLength="36.10" lengthAdjust="spacingAndGlyphs">mode</text>
<text x="561.35" y="193.4" class="c" font-style="italic" style="stroke:none" textLength="14.91" lengthAdjust="spacingAndGlyphs">m</text>
<text x="579.07" y="193.4" class="c" textLength="12.85" lengthAdjust="spacingAndGlyphs">=</text>
<text x="594.99" y="193.4" class="c" textLength="11.96" lengthAdjust="spacingAndGlyphs">0.</text>
<text x="12.02" y="393.4" class="c" textLength="20.77" lengthAdjust="spacingAndGlyphs">(b)</text>
<text x="38.00" y="393.4" class="c" textLength="25.46" lengthAdjust="spacingAndGlyphs">The</text>
<text x="67.79" y="393.4" class="c" textLength="48.84" lengthAdjust="spacingAndGlyphs">spectra</text>
<text x="119.85" y="393.4" class="c" textLength="14.15" lengthAdjust="spacingAndGlyphs">of</text>
<text x="138.13" y="393.4" class="c" textLength="21.17" lengthAdjust="spacingAndGlyphs">the</text>
<text x="163.73" y="393.4" class="c" textLength="71.36" lengthAdjust="spacingAndGlyphs">normalised</text>
<text x="240.72" y="393.4" class="c" textLength="66.26" lengthAdjust="spacingAndGlyphs">amplitude</text>
<text x="311.48" y="393.4" class="c" textLength="13.62" lengthAdjust="spacingAndGlyphs">of</text>
<text x="329.07" y="393.4" class="c" textLength="37.97" lengthAdjust="spacingAndGlyphs">radial</text>
<text x="372.66" y="393.4" class="c" textLength="42.12" lengthAdjust="spacingAndGlyphs">modes</text>
<text x="419.58" y="393.4" class="c" textLength="28.73" lengthAdjust="spacingAndGlyphs">with</text>
<text x="453.71" y="393.4" class="c" textLength="65.92" lengthAdjust="spacingAndGlyphs">azimuthal</text>
<text x="524.36" y="393.4" class="c" textLength="36.10" lengthAdjust="spacingAndGlyphs">mode</text>
<text x="564.61" y="393.4" class="c" font-style="italic" style="stroke:none" textLength="9.70" lengthAdjust="spacingAndGlyphs">n</text>
<text x="577.42" y="393.4" class="c" textLength="12.24" lengthAdjust="spacingAndGlyphs">=</text>
<text x="593.03" y="393.4" class="c" textLength="13.12" lengthAdjust="spacingAndGlyphs">0.</text>
<text x="12.97" y="588.6" class="c" textLength="18.35" lengthAdjust="spacingAndGlyphs">(c)</text>
<text x="37.30" y="588.6" class="c" textLength="25.46" lengthAdjust="spacingAndGlyphs">The</text>
<text x="67.09" y="588.6" class="c" textLength="48.84" lengthAdjust="spacingAndGlyphs">spectra</text>
<text x="119.15" y="588.6" class="c" textLength="14.15" lengthAdjust="spacingAndGlyphs">of</text>
<text x="137.43" y="588.6" class="c" textLength="21.17" lengthAdjust="spacingAndGlyphs">the</text>
<text x="163.03" y="588.6" class="c" textLength="71.36" lengthAdjust="spacingAndGlyphs">normalised</text>
<text x="240.02" y="588.6" class="c" textLength="66.26" lengthAdjust="spacingAndGlyphs">amplitude</text>
<text x="310.78" y="588.6" class="c" textLength="13.62" lengthAdjust="spacingAndGlyphs">of</text>
<text x="328.37" y="588.6" class="c" textLength="37.97" lengthAdjust="spacingAndGlyphs">radial</text>
<text x="371.96" y="588.6" class="c" textLength="42.12" lengthAdjust="spacingAndGlyphs">modes</text>
<text x="418.88" y="588.6" class="c" textLength="28.73" lengthAdjust="spacingAndGlyphs">with</text>
<text x="453.01" y="588.6" class="c" textLength="65.92" lengthAdjust="spacingAndGlyphs">azimuthal</text>
<text x="523.66" y="588.6" class="c" textLength="36.10" lengthAdjust="spacingAndGlyphs">mode</text>
<text x="563.91" y="588.6" class="c" font-style="italic" style="stroke:none" textLength="9.70" lengthAdjust="spacingAndGlyphs">n</text>
<text x="576.82" y="588.6" class="c" textLength="12.24" lengthAdjust="spacingAndGlyphs">=</text>
<text x="592.21" y="588.6" class="c" textLength="12.71" lengthAdjust="spacingAndGlyphs">1.</text>
</svg>
</body></html>
